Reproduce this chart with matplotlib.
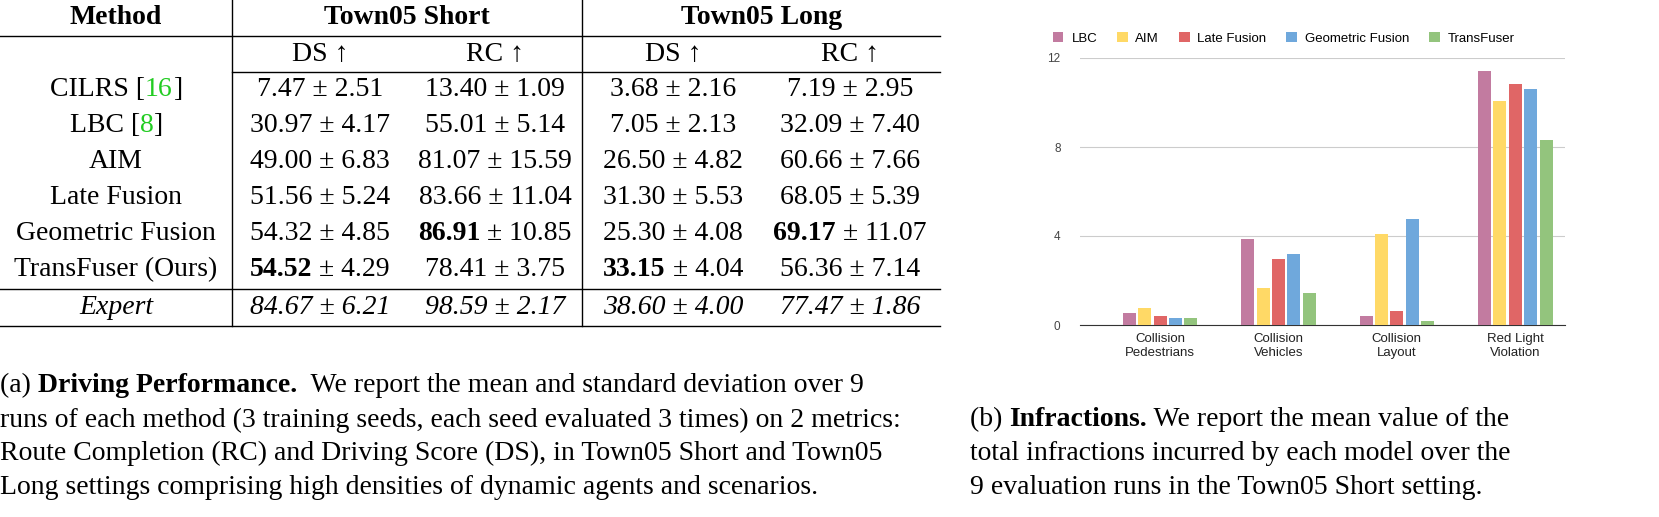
import matplotlib.pyplot as plt
import numpy as np

plt.rcParams["font.family"] = ["Liberation Serif", "DejaVu Serif"]

# table data
methods = ["CILRS", "LBC", "AIM", "Late Fusion", "Geometric Fusion", "TransFuser (Ours)"]
method_refs = ["16", "8", "", "", "", ""]
short_ds = ["7.47 ± 2.51", "30.97 ± 4.17", "49.00 ± 6.83", "51.56 ± 5.24", "54.32 ± 4.85", "**54.52** ± 4.29"]
short_rc = ["13.40 ± 1.09", "55.01 ± 5.14", "81.07 ± 15.59", "83.66 ± 11.04", "**86.91** ± 10.85", "78.41 ± 3.75"]
long_ds = ["3.68 ± 2.16", "7.05 ± 2.13", "26.50 ± 4.82", "31.30 ± 5.53", "25.30 ± 4.08", "**33.15** ± 4.04"]
long_rc = ["7.19 ± 2.95", "32.09 ± 7.40", "60.66 ± 7.66", "68.05 ± 5.39", "**69.17** ± 11.07", "56.36 ± 7.14"]
expert = ["84.67 ± 6.21", "98.59 ± 2.17", "38.60 ± 4.00", "77.47 ± 1.86"]

# bar chart data
categories = ["Collision\nPedestrians", "Collision\nVehicles", "Collision\nLayout", "Red Light\nViolation"]
models = ["LBC", "AIM", "Late Fusion", "Geometric Fusion", "TransFuser"]
infractions = {
    "LBC": [0.55, 3.85, 0.42, 11.4],
    "AIM": [0.75, 1.68, 4.07, 10.05],
    "Late Fusion": [0.42, 2.98, 0.64, 10.83],
    "Geometric Fusion": [0.33, 3.19, 4.78, 10.6],
    "TransFuser": [0.33, 1.44, 0.18, 8.3],
}
colors = ["#c27ba0", "#ffd966", "#e06666", "#6fa8dc", "#93c47d"]

W, H = 1659, 517
fig = plt.figure(figsize=(W / 100, H / 100), dpi=100)
fig.canvas.draw()
renderer = fig.canvas.get_renderer()
FS = 20


def px(x, y):
    return x / W, 1 - y / H


def cell(s):
    if s.startswith("**"):
        b, rest = s[2:].split("**", 1)
        return [(b, {"weight": "bold"}), (rest, {})]
    return [(s, {})]


def seq_text(x, y, parts, ha="center", size=FS):
    """Draw text pieces one after another (x,y in pixels)."""
    arts = []
    for txt, kw in parts:
        t = fig.text(0, 0, txt, fontsize=size, va="center", **kw)
        arts.append(t)
    widths = [a.get_window_extent(renderer).width for a in arts]
    total = sum(widths)
    cx = x - total / 2 if ha == "center" else x
    for a, w in zip(arts, widths):
        a.set_position(px(cx, y))
        cx += w


def hline(y, x0=0, x1=940, lw=1.0):
    fig.add_artist(plt.Line2D([x0 / W, x1 / W], [1 - y / H] * 2, color="black", lw=lw))


def vline(x, y0, y1):
    fig.add_artist(plt.Line2D([x / W] * 2, [1 - y0 / H, 1 - y1 / H], color="black", lw=1.0))


cols = [116, 320, 495, 673, 850]
seq_text(cols[0], 17, [("Method", {"weight": "bold"})])
seq_text(407, 17, [("Town05 Short", {"weight": "bold"})])
seq_text(762, 17, [("Town05 Long", {"weight": "bold"})])
for c, lab in zip(cols[1:], ["DS ↑", "RC ↑", "DS ↑", "RC ↑"]):
    seq_text(c, 54, [(lab, {})])

row_y = [90, 125, 161, 197, 234, 270]
for i, y in enumerate(row_y):
    parts = [(methods[i], {})]
    if method_refs[i]:
        parts = [(methods[i] + " [", {}), (method_refs[i], {"color": "#22cc22"}), ("]", {})]
    seq_text(cols[0], y, parts)
    for c, col in zip(cols[1:], [short_ds, short_rc, long_ds, long_rc]):
        seq_text(c, y, cell(col[i]))
seq_text(cols[0], 307, [("Expert", {"style": "italic"})])
for c, v in zip(cols[1:], expert):
    seq_text(c, 307, [(v, {"style": "italic"})])

hline(36)
hline(72, 232, 940)
hline(289)
hline(326)
vline(232, 0, 326)
vline(582, 0, 326)

# captions
seq_text(0, 386, [("(a) ", {}), ("Driving Performance.", {"weight": "bold"}),
                  ("  We report the mean and standard deviation over 9", {})], ha="left")
seq_text(0, 420, [("runs of each method (3 training seeds, each seed evaluated 3 times) on 2 metrics:", {})], ha="left")
seq_text(0, 453, [("Route Completion (RC) and Driving Score (DS), in Town05 Short and Town05", {})], ha="left")
seq_text(0, 487, [("Long settings comprising high densities of dynamic agents and scenarios.", {})], ha="left")

seq_text(970, 420, [("(b) ", {}), ("Infractions.", {"weight": "bold"}),
                    (" We report the mean value of the", {})], ha="left")
seq_text(970, 453, [("total infractions incurred by each model over the", {})], ha="left")
seq_text(970, 487, [("9 evaluation runs in the Town05 Short setting.", {})], ha="left")

# bar chart
ax = fig.add_axes([1080 / W, 1 - 325 / H, 485 / W, 267 / H])
x = np.arange(len(categories))
step, width = 0.13, 0.11
for k, (m, c) in enumerate(zip(models, colors)):
    ax.bar(x + (k - 2) * step, infractions[m], width, color=c, label=m, zorder=3)
ax.set_xlim(-0.676, 3.42)
ax.set_ylim(0, 12)
ax.set_yticks([0, 4, 8, 12])
ax.set_xticks(x)
ax.set_xticklabels(categories, fontsize=9.5, family="Liberation Sans", color="#222222")
ax.tick_params(axis="y", labelsize=8.5, colors="#444444", length=0, pad=14)
ax.tick_params(axis="x", length=0, pad=6)
for lab in ax.get_yticklabels():
    lab.set_family("Liberation Sans")
ax.grid(axis="y", color="#cccccc", lw=0.8, zorder=0)
for s in ["top", "right", "left"]:
    ax.spines[s].set_visible(False)
ax.spines["bottom"].set_color("#333333")
ax.legend(loc="lower center", bbox_to_anchor=(0.42, 1.03), ncol=5, frameon=False,
          prop={"family": "Liberation Sans", "size": 9.5}, handlelength=0.8, handleheight=0.8,
          columnspacing=1.5, handletextpad=0.6, borderaxespad=0)

fig.savefig("out.png", dpi=100)
